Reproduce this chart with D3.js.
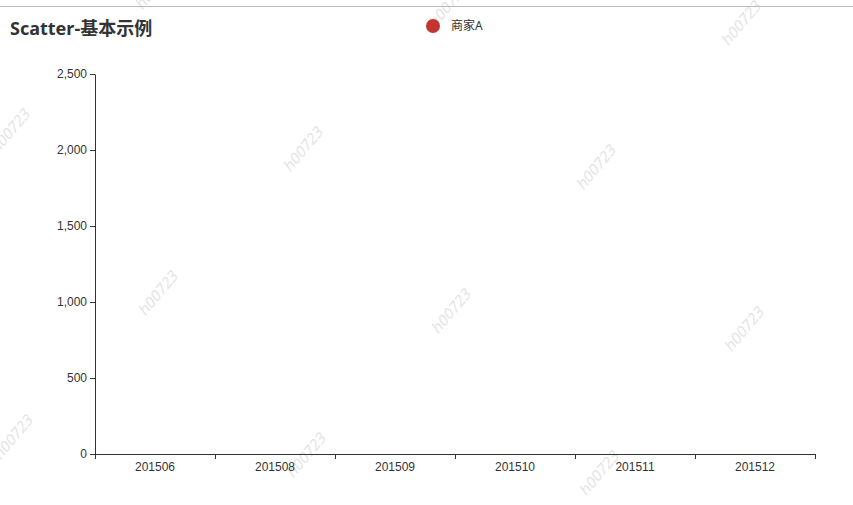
<!DOCTYPE html>
<html>
<head>
<meta charset="utf-8">
<script src="https://cdn.jsdelivr.net/npm/d3@7"></script>
<style>
  html, body { margin: 0; padding: 0; background: #fff; }
  svg { display: block; font-family: "Microsoft YaHei", "Noto Sans", "Noto Sans CJK SC", sans-serif; }
</style>
</head>
<body>
<div id="chart"></div>
<script>
// 数据
var categories = ['201506', '201508', '201509', '201510', '201511', '201512'];
var seriesName = '商家A';
var seriesValues = [null, null, null, null, null, null]; // 图上没有可见的点
var yTicks = [0, 500, 1000, 1500, 2000, 2500];
var titleText = 'Scatter-基本示例';
var watermarkText = 'h00723';

var W = 853, H = 505;
var margin = { top: 74, right: 38, bottom: 51, left: 95 };
var width = W - margin.left - margin.right;
var height = H - margin.top - margin.bottom;

var svg = d3.select('#chart').append('svg')
    .attr('width', W)
    .attr('height', H);

// 水印
var wm = svg.append('g').attr('id', 'watermark');
var wmPos = [];
for (var i = -2; i <= 4; i++) {
  for (var j = -2; j <= 4; j++) {
    var x = 10 + i * 293 + j * 148;
    var y = 130 + i * 18 + j * 162;
    if (x > -60 && x < W + 60 && y > -60 && y < H + 60) wmPos.push([x, y]);
  }
}
wm.selectAll('text')
  .data(wmPos)
  .join('text')
  .attr('transform', d => `translate(${d[0]},${d[1]}) rotate(-50) skewX(-12)`)
  .attr('text-anchor', 'middle')
  .attr('dominant-baseline', 'central')
  .attr('font-size', 15)
  .attr('fill', '#e4e4e4')
  .text(watermarkText);

// 顶部分割线
svg.append('line')
  .attr('x1', 0).attr('x2', W)
  .attr('y1', 6.5).attr('y2', 6.5)
  .attr('stroke', '#bbb')
  .attr('stroke-width', 1);

// 标题
svg.append('text')
  .attr('x', 10)
  .attr('y', 35)
  .attr('font-size', 18)
  .attr('font-weight', 'bold')
  .attr('fill', '#333')
  .text(titleText);

// 图例
var legend = svg.append('g').attr('transform', 'translate(433,26)');
legend.append('circle')
  .attr('r', 7)
  .attr('fill', '#c23531');
legend.append('text')
  .attr('x', 18)
  .attr('dy', '0.35em')
  .attr('font-size', 12)
  .attr('fill', '#333')
  .text(seriesName);

var g = svg.append('g').attr('transform', `translate(${margin.left},${margin.top})`);

var xScale = d3.scaleBand().domain(categories).range([0, width]);
var yScale = d3.scaleLinear().domain([0, d3.max(yTicks)]).range([height, 0]);

// y 轴
var yAxis = g.append('g')
  .call(d3.axisLeft(yScale).tickValues(yTicks).tickFormat(d3.format(',')).tickSize(5).tickPadding(3).tickSizeOuter(0));
yAxis.select('.domain').attr('stroke', '#333');
yAxis.selectAll('.tick line').attr('stroke', '#333');
yAxis.selectAll('text').attr('fill', '#333').attr('font-size', 12).attr('font-family', null);

// x 轴
var xAxis = g.append('g')
  .attr('transform', `translate(0,${height})`)
  .call(d3.axisBottom(xScale).tickSize(0).tickPadding(8).tickSizeOuter(0));
xAxis.select('.domain').attr('stroke', '#333');
xAxis.selectAll('text').attr('fill', '#333').attr('font-size', 12).attr('font-family', null);
// 类目边界刻度
var bounds = categories.map(c => xScale(c)).concat([xScale(categories[categories.length - 1]) + xScale.bandwidth()]);
xAxis.selectAll('.bound')
  .data(bounds)
  .join('line')
  .attr('class', 'bound')
  .attr('x1', d => d + 0.5).attr('x2', d => d + 0.5)
  .attr('y1', 0).attr('y2', 5)
  .attr('stroke', '#333');

// 散点
var points = categories.map((c, i) => ({ cat: c, value: seriesValues[i] }))
  .filter(d => d.value != null);
g.append('g').selectAll('circle')
  .data(points)
  .join('circle')
  .attr('cx', d => xScale(d.cat) + xScale.bandwidth() / 2)
  .attr('cy', d => yScale(d.value))
  .attr('r', 5)
  .attr('fill', '#c23531');
</script>
</body>
</html>
